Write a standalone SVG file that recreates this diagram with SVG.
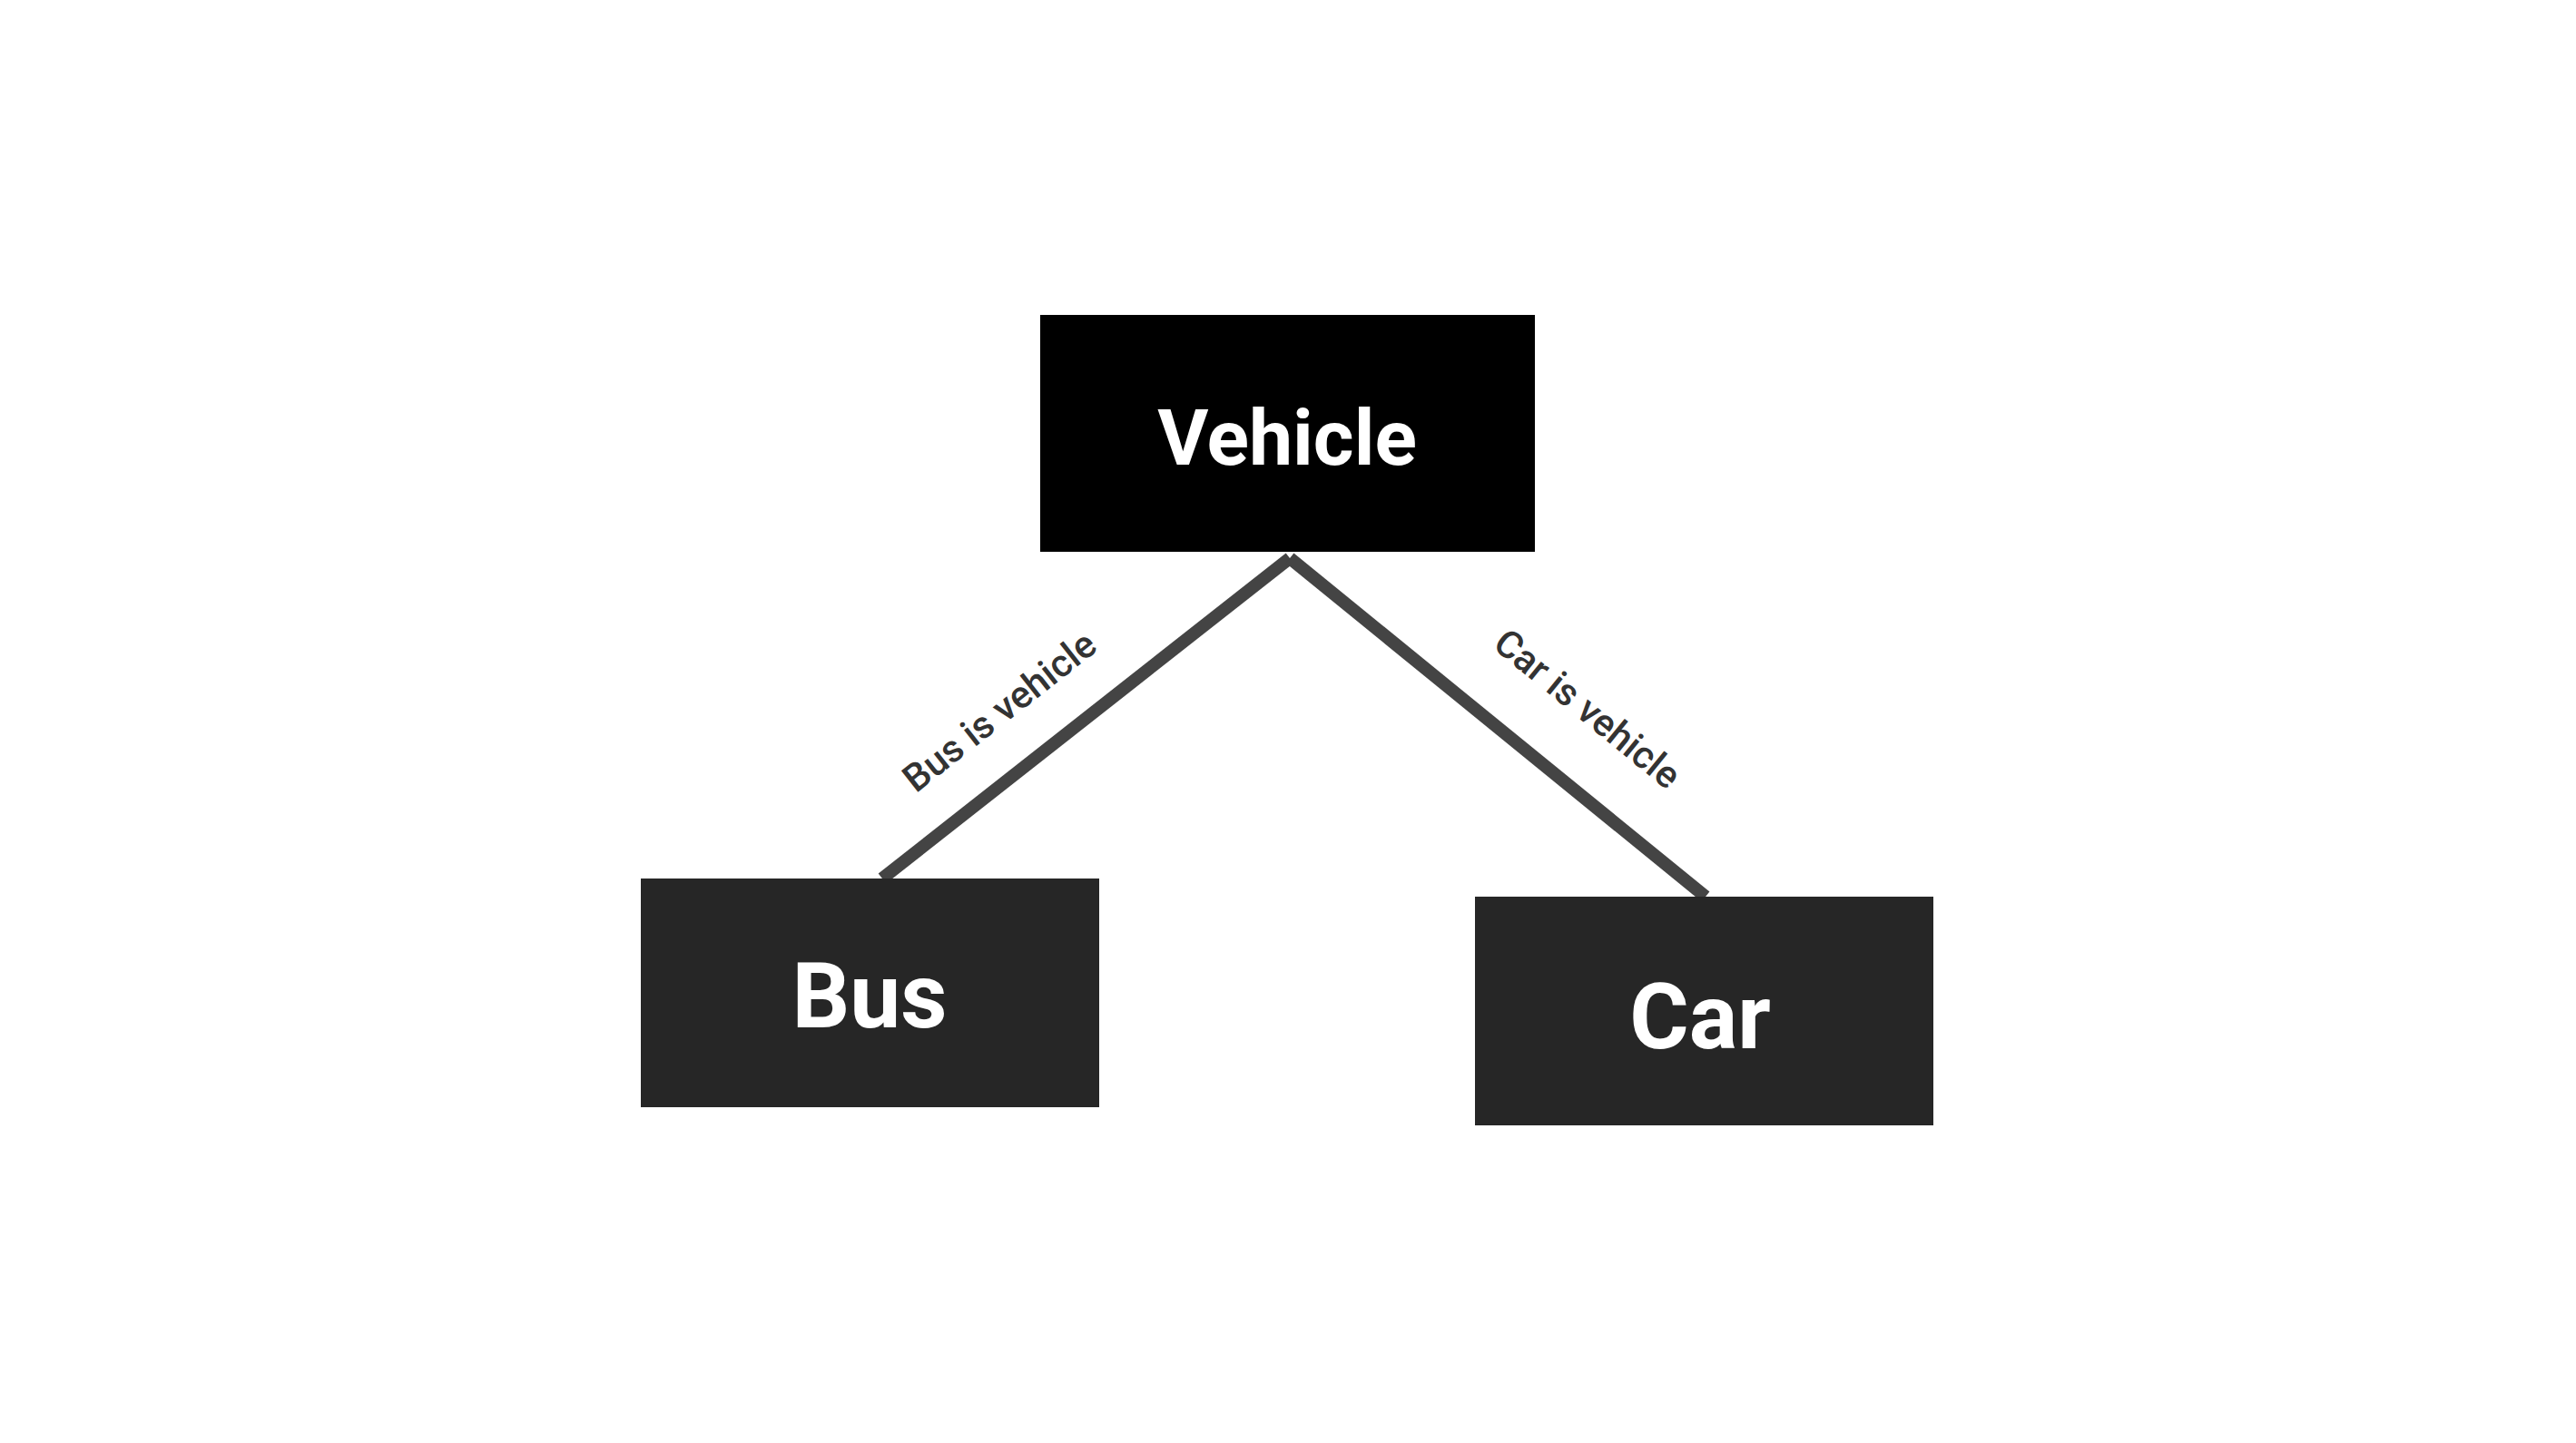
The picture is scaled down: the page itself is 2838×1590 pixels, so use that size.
<svg xmlns="http://www.w3.org/2000/svg" width="2838" height="1590" viewBox="0 0 2838 1590">
<style>
.n{font-family:Roboto,"Liberation Sans",sans-serif;font-weight:bold;fill:#fff;text-anchor:middle;dominant-baseline:central}
.l{font-family:Roboto,"Liberation Sans",sans-serif;font-weight:500;fill:#333;font-size:42px;text-anchor:middle}
.e{stroke:#444;stroke-width:14;fill:none}
</style>
<rect width="2838" height="1590" fill="#fff"/>
<g id="connectors">
<line class="e" x1="1421" y1="615" x2="972" y2="968"/>
<line class="e" x1="1421" y1="615" x2="1879" y2="988"/>
<text class="l" transform="translate(1110,795) rotate(-38.2)">Bus is vehicle</text>
<text class="l" transform="translate(1740,792) rotate(39.2)">Car is vehicle</text>
</g>
<g id="vehicle"><rect x="1146" y="347" width="545" height="261" fill="#000"/><text class="n" x="1418" y="482" font-size="86">Vehicle</text></g>
<g id="bus"><rect x="706" y="968" width="505" height="252" fill="#262626"/><text class="n" x="958" y="1097" font-size="100">Bus</text></g>
<g id="car"><rect x="1625" y="988" width="505" height="252" fill="#262626"/><text class="n" x="1873" y="1120" font-size="100">Car</text></g>
</svg>
